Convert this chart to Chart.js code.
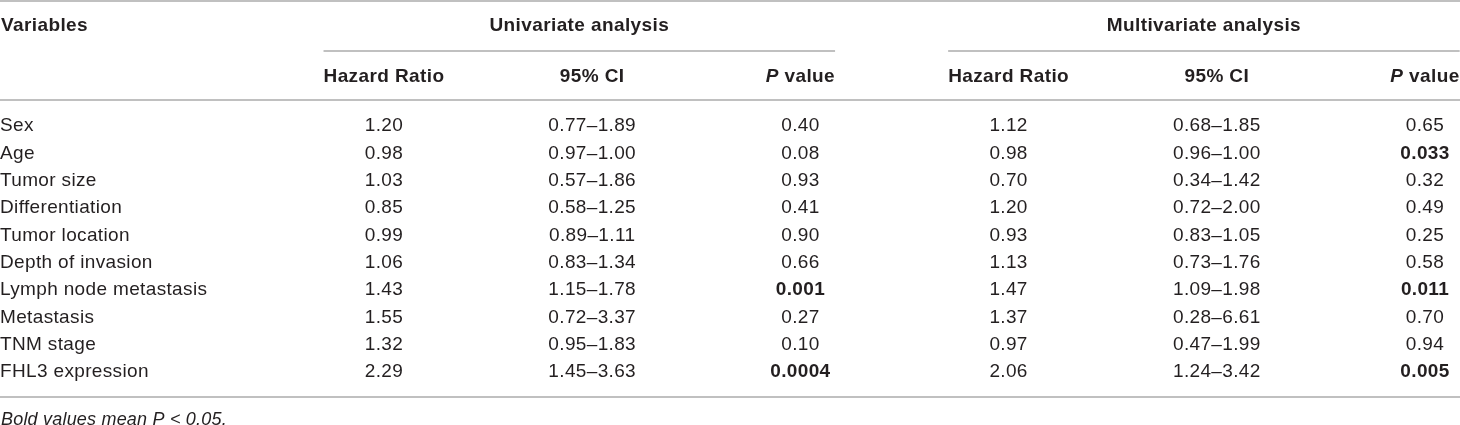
<!DOCTYPE html>
<html>
<head>
<meta charset="utf-8">
<script src="https://cdn.jsdelivr.net/npm/chart.js@4.4.0/dist/chart.umd.min.js"></script>
<style>
  html, body { margin: 0; padding: 0; background: #fff; }
  #wrap { width: 1460px; height: 425px; }
</style>
</head>
<body>
<div id="wrap"><canvas id="coxTable"></canvas></div>
<script>
// Cox regression table, one row per variable
const variables = ['Sex', 'Age', 'Tumor size', 'Differentiation', 'Tumor location',
  'Depth of invasion', 'Lymph node metastasis', 'Metastasis', 'TNM stage', 'FHL3 expression'];

const uniHR = [1.20, 0.98, 1.03, 0.85, 0.99, 1.06, 1.43, 1.55, 1.32, 2.29];
const uniLow = [0.77, 0.97, 0.57, 0.58, 0.89, 0.83, 1.15, 0.72, 0.95, 1.45];
const uniHigh = [1.89, 1.00, 1.86, 1.25, 1.11, 1.34, 1.78, 3.37, 1.83, 3.63];
const uniP = ['0.40', '0.08', '0.93', '0.41', '0.90', '0.66', '0.001', '0.27', '0.10', '0.0004'];

const multiHR = [1.12, 0.98, 0.70, 1.20, 0.93, 1.13, 1.47, 1.37, 0.97, 2.06];
const multiLow = [0.68, 0.96, 0.34, 0.72, 0.83, 0.73, 1.09, 0.28, 0.47, 1.24];
const multiHigh = [1.85, 1.00, 1.42, 2.00, 1.05, 1.76, 1.98, 6.61, 1.99, 3.42];
const multiP = ['0.65', '0.033', '0.32', '0.49', '0.25', '0.58', '0.011', '0.70', '0.94', '0.005'];

const columns = ['uHR', 'uCI', 'uP', 'mHR', 'mCI', 'mP'];
const groups = ['Univariate analysis', 'Multivariate analysis'];
const footnote = 'Bold values mean P < 0.05.';

const FONT = '"Liberation Sans", Arial, sans-serif';
const INK = '#231f20';
const RULE = '#ababab';

function ci(lo, hi) {
  return lo.map((v, i) => v.toFixed(2) + '\u2013' + hi[i].toFixed(2));
}

function column(key, cells, pvals) {
  return {
    data: variables.map(v => ({ x: key, y: v })),
    cells: cells,
    bold: cells.map(c => pvals ? parseFloat(c) < 0.05 : false),
    pointRadius: 0
  };
}

const datasets = [
  column('uHR', uniHR.map(v => v.toFixed(2))),
  column('uCI', ci(uniLow, uniHigh)),
  column('uP', uniP, true),
  column('mHR', multiHR.map(v => v.toFixed(2))),
  column('mCI', ci(multiLow, multiHigh)),
  column('mP', multiP, true)
];

// draws the cell texts at the points' positions, then the header and rules
const tablePlugin = {
  id: 'tablePlugin',
  beforeDraw(chart) {
    // the original face is a bit wider than Liberation Sans
    chart.ctx.letterSpacing = '0.35px';
  },
  afterDatasetsDraw(chart) {
    const ctx = chart.ctx;
    const area = chart.chartArea;
    const x = chart.scales.x;
    const W = chart.width;
    ctx.save();
    ctx.fillStyle = INK;
    ctx.textBaseline = 'middle';
    ctx.textAlign = 'center';
    ctx.letterSpacing = '0.35px';

    chart.data.datasets.forEach((ds, di) => {
      chart.getDatasetMeta(di).data.forEach((pt, i) => {
        ctx.font = (ds.bold[i] ? 'bold ' : '') + '19px ' + FONT;
        ctx.fillText(ds.cells[i], pt.x, pt.y);
      });
    });

    // header
    ctx.letterSpacing = '0.4px';
    const headFont = 'bold 19px ' + FONT;
    const subY = area.top - 49;
    const groupY = area.top - 100;
    ctx.font = headFont;
    ctx.textAlign = 'left';
    ctx.fillText('Variables', 1, groupY);

    const spans = [];
    [0, 3].forEach((start, g) => {
      let left = Infinity, right = -Infinity;
      for (let c = start; c < start + 3; c++) {
        const cx = x.getPixelForValue(c);
        let w;
        if (c % 3 === 2) {
          // "P value" with italic P
          ctx.font = 'italic bold 19px ' + FONT;
          const wp = ctx.measureText('P').width;
          ctx.font = headFont;
          const wv = ctx.measureText(' value').width;
          w = wp + wv;
          ctx.textAlign = 'left';
          ctx.font = 'italic bold 19px ' + FONT;
          ctx.fillText('P', cx - w / 2, subY);
          ctx.font = headFont;
          ctx.fillText(' value', cx - w / 2 + wp, subY);
        } else {
          const label = c % 3 === 0 ? 'Hazard Ratio' : '95% CI';
          ctx.font = headFont;
          ctx.textAlign = 'center';
          w = ctx.measureText(label).width;
          ctx.fillText(label, cx, subY);
        }
        left = Math.min(left, cx - w / 2);
        right = Math.max(right, cx + w / 2);
      }
      spans.push([left, right]);
      ctx.font = headFont;
      ctx.textAlign = 'center';
      ctx.fillText(groups[g], (left + right) / 2, groupY);
    });

    // rules
    ctx.strokeStyle = RULE;
    ctx.lineWidth = 1.5;
    const hline = (x0, x1, y) => {
      ctx.beginPath();
      ctx.moveTo(x0, y);
      ctx.lineTo(x1, y);
      ctx.stroke();
    };
    hline(0, W, 1);
    spans.forEach(s => hline(s[0], s[1], area.top - 75));
    hline(0, W, area.top - 26);
    hline(0, W, area.bottom + 25);

    // footnote
    ctx.letterSpacing = '0.2px';
    ctx.font = 'italic 18px ' + FONT;
    ctx.textAlign = 'left';
    ctx.fillText(footnote, 1, area.bottom + 48);
    ctx.restore();
  }
};

new Chart(document.getElementById('coxTable'), {
  type: 'scatter',
  data: { datasets: datasets },
  options: {
    responsive: true,
    maintainAspectRatio: false,
    animation: false,
    events: [],
    layout: { padding: { top: 126, bottom: 53, right: 35, left: 0 } },
    plugins: { legend: { display: false }, tooltip: { enabled: false } },
    scales: {
      x: {
        type: 'category',
        labels: columns,
        offset: false,
        display: false
      },
      y: {
        type: 'category',
        labels: variables,
        offset: false,
        grid: { display: false },
        border: { display: false },
        afterFit: s => { s.width = 384; },
        ticks: {
          autoSkip: false,
          crossAlign: 'far',
          padding: 0,
          color: INK,
          font: { family: FONT, size: 19 }
        }
      }
    }
  },
  plugins: [tablePlugin]
});
</script>
</body>
</html>
